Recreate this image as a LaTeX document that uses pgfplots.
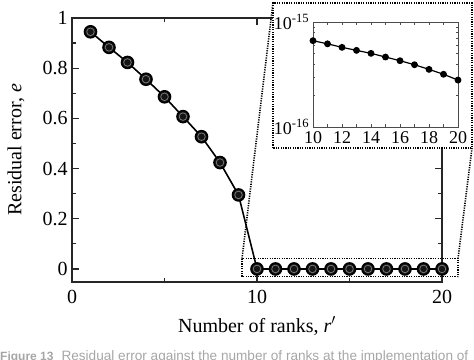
\documentclass[border=0pt]{standalone}
\usepackage{fontspec}
\setmainfont{Liberation Serif}
\newfontfamily\capfont{Liberation Sans}
\usepackage{pgfplots}
\pgfplotsset{compat=1.18}

\begin{document}
\fontsize{20}{24}\selectfont
\begin{tikzpicture}[x=1pt,y=1pt]
\useasboundingbox (0,0) rectangle (474,359);
\begin{axis}[
  at={(72pt,77pt)}, anchor=south west,
  scale only axis, width=370pt, height=264pt,
  xmin=0, xmax=20, ymin=-0.052, ymax=1,
  xtick={0,10,20}, minor xtick={5,15},
  ytick={0,0.2,0.4,0.6,0.8,1}, minor ytick={0.1,0.3,0.5,0.7,0.9},
  tick align=inside, major tick length=7pt, minor tick length=4pt,
  axis line style={line width=1.6pt, black!85},
  every tick/.style={line width=1.2pt, black!85},
  /pgf/number format/assume math mode=true,
  tick label style={font=\fontsize{20}{24}\selectfont},
  xticklabel style={yshift=-1pt},
  yticklabel style={xshift=2.5pt},
  xlabel={Number of ranks, \textit{r}$'$},
  ylabel={Residual error, \textit{e}},
  label style={font=\fontsize{20}{24}\selectfont},
  xlabel style={at={(axis description cs:0.5,0)}, anchor=base, yshift=-50pt},
  ylabel style={at={(axis description cs:0,0.5)}, anchor=center, rotate=0, yshift=56pt},
]
\addplot[line width=1.6pt, black, mark=*, mark size=6pt, mark options={fill=black!92}] coordinates {
(1,0.945) (2,0.883) (3,0.823) (4,0.756) (5,0.686) (6,0.607) (7,0.527) (8,0.424) (9,0.295)
(10,0) (11,0) (12,0) (13,0) (14,0) (15,0) (16,0) (17,0) (18,0) (19,0) (20,0)};
\addplot[only marks, mark=o, mark size=3.8pt, mark options={draw=black!50, line width=0.7pt}] coordinates {
(1,0.945) (2,0.883) (3,0.823) (4,0.756) (5,0.686) (6,0.607) (7,0.527) (8,0.424) (9,0.295)
(10,0) (11,0) (12,0) (13,0) (14,0) (15,0) (16,0) (17,0) (18,0) (19,0) (20,0)};
\end{axis}

\filldraw[fill=white, draw=black, dash pattern=on 1.2pt off 1.2pt, line width=1.6pt] (273,211) rectangle (472,356);

\begin{axis}[
  at={(313pt,232pt)}, anchor=south west,
  scale only axis, width=145pt, height=105pt,
  xmin=10, xmax=20, ymode=log, ymin=1e-16, ymax=1e-15,
  xtick={10,11,12,13,14,15,16,17,18,19,20},
  xticklabels={10,,12,,14,,16,,18,,20},
  ytick={1e-16,1e-15},
  yticklabels={10\textsuperscript{-16},10\textsuperscript{-15}},
  minor ytick={2e-16,3e-16,4e-16,5e-16,6e-16,7e-16,8e-16,9e-16},
  tick align=inside, major tick length=3pt, minor tick length=2pt,
  axis line style={line width=0.8pt, black!70},
  every tick/.style={line width=0.6pt, black!70},
  tick label style={font=\fontsize{18}{20}\selectfont},
  xticklabel style={yshift=2pt},
  yticklabel style={xshift=3pt},
]
\addplot[line width=1.2pt, black, mark=*, mark size=2.8pt] coordinates {
(10,6.64e-16) (11,6.2e-16) (12,5.74e-16) (13,5.37e-16) (14,5.03e-16) (15,4.64e-16)
(16,4.28e-16) (17,3.92e-16) (18,3.54e-16) (19,3.18e-16) (20,2.8e-16)};
\end{axis}

\draw[black, dash pattern=on 1.2pt off 1.2pt, line width=1.6pt] (242,82.3) rectangle (458,100.3);
\draw[black, dash pattern=on 1.2pt off 1.2pt, line width=1.6pt] (242,100.3) -- (273,356);
\draw[black, dash pattern=on 1.2pt off 1.2pt, line width=1.6pt] (458,100.3) -- (472,211);

\node[anchor=base west, inner sep=0, text=gray!70, font=\capfont\fontsize{12}{14}\selectfont] at (0,-1.6) {\textbf{Figure 13}\hspace{8pt}{\fontsize{13.6}{15}\selectfont Residual error against the number of ranks at the implementation of}};
\end{tikzpicture}
\end{document}
